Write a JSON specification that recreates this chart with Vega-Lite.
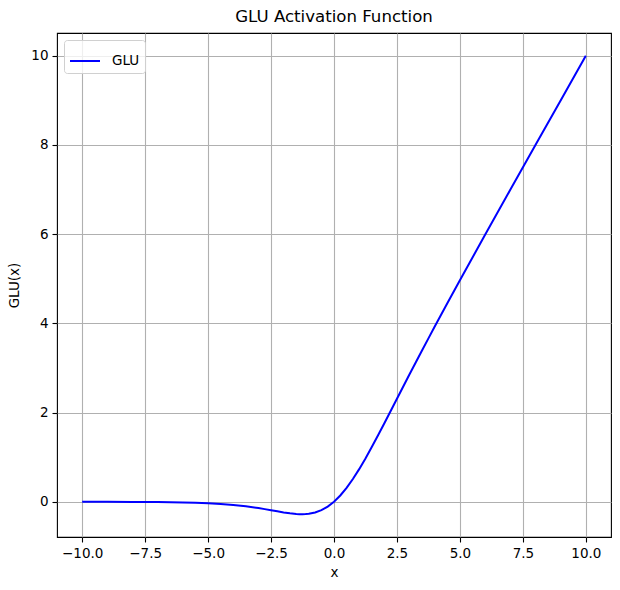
{
  "$schema": "https://vega.github.io/schema/vega-lite/v6.json",
  "autosize": {"type": "none"},
  "padding": {"left": 57, "top": 33, "right": 8, "bottom": 53},
  "width": 554,
  "height": 504,
  "background": "white",
  "title": {
    "text": "GLU Activation Function",
    "font": "DejaVu Sans",
    "fontSize": 16.6,
    "fontWeight": "normal",
    "color": "black",
    "offset": 7
  },
  "data": {
    "values": [
      {"x": -10, "y": -0.0005},
      {"x": -9, "y": -0.0011},
      {"x": -8, "y": -0.0027},
      {"x": -7, "y": -0.0064},
      {"x": -6, "y": -0.0148},
      {"x": -5.5, "y": -0.0224},
      {"x": -5, "y": -0.0335},
      {"x": -4.5, "y": -0.0495},
      {"x": -4, "y": -0.0719},
      {"x": -3.5, "y": -0.1026},
      {"x": -3, "y": -0.1423},
      {"x": -2.75, "y": -0.1653},
      {"x": -2.5, "y": -0.1896},
      {"x": -2.25, "y": -0.2145},
      {"x": -2, "y": -0.2384},
      {"x": -1.75, "y": -0.2591},
      {"x": -1.5, "y": -0.2736},
      {"x": -1.375, "y": -0.2775},
      {"x": -1.25, "y": -0.2784},
      {"x": -1.125, "y": -0.2757},
      {"x": -1, "y": -0.2689},
      {"x": -0.75, "y": -0.2406},
      {"x": -0.5, "y": -0.1888},
      {"x": -0.25, "y": -0.1094},
      {"x": 0, "y": 0},
      {"x": 0.25, "y": 0.1406},
      {"x": 0.5, "y": 0.3112},
      {"x": 0.75, "y": 0.5094},
      {"x": 1, "y": 0.7311},
      {"x": 1.25, "y": 0.9716},
      {"x": 1.5, "y": 1.2264},
      {"x": 1.75, "y": 1.4909},
      {"x": 2, "y": 1.7616},
      {"x": 2.25, "y": 2.0355},
      {"x": 2.5, "y": 2.3104},
      {"x": 2.75, "y": 2.5848},
      {"x": 3, "y": 2.8577},
      {"x": 3.25, "y": 3.1288},
      {"x": 3.5, "y": 3.3974},
      {"x": 3.75, "y": 3.6636},
      {"x": 4, "y": 3.9281},
      {"x": 4.5, "y": 4.4505},
      {"x": 5, "y": 4.9665},
      {"x": 6, "y": 5.9852},
      {"x": 7, "y": 6.9936},
      {"x": 8, "y": 7.9973},
      {"x": 9, "y": 8.9989},
      {"x": 10, "y": 9.9996}
    ]
  },
  "mark": {"type": "line", "strokeWidth": 2, "clip": true},
  "encoding": {
    "x": {
      "field": "x",
      "type": "quantitative",
      "title": "x",
      "scale": {"domain": [-11, 11], "nice": false, "zero": false},
      "axis": {
        "values": [-10, -7.5, -5, -2.5, 0, 2.5, 5, 7.5, 10],
        "format": ".1f",
        "titlePadding": 6
      }
    },
    "y": {
      "field": "y",
      "type": "quantitative",
      "title": "GLU(x)",
      "scale": {"domain": [-0.79, 10.51], "nice": false, "zero": false},
      "axis": {
        "values": [0, 2, 4, 6, 8, 10],
        "format": "d",
        "titlePadding": 9
      }
    },
    "color": {
      "datum": "GLU",
      "type": "nominal",
      "scale": {"range": ["#0000ff"]},
      "legend": {
        "title": null,
        "orient": "top-left",
        "offset": 7,
        "symbolType": "stroke",
        "symbolSize": 900,
        "symbolStrokeWidth": 2,
        "labelFont": "DejaVu Sans",
        "labelFontSize": 13.5,
        "labelColor": "black",
        "labelOffset": 11,
        "padding": 5,
        "strokeColor": "#d0d0d0",
        "fillColor": "rgba(255,255,255,0.8)",
        "cornerRadius": 3
      }
    }
  },
  "config": {
    "view": {"stroke": "black", "strokeWidth": 1.1},
    "axis": {
      "domain": false,
      "grid": true,
      "gridColor": "#b0b0b0",
      "gridWidth": 1.1,
      "ticks": true,
      "tickColor": "black",
      "tickSize": 5,
      "tickWidth": 1.1,
      "labelFont": "DejaVu Sans",
      "labelFontSize": 13.5,
      "labelColor": "black",
      "labelPadding": 4,
      "titleFont": "DejaVu Sans",
      "titleFontSize": 13.5,
      "titleFontWeight": "normal",
      "titleColor": "black"
    }
  }
}
